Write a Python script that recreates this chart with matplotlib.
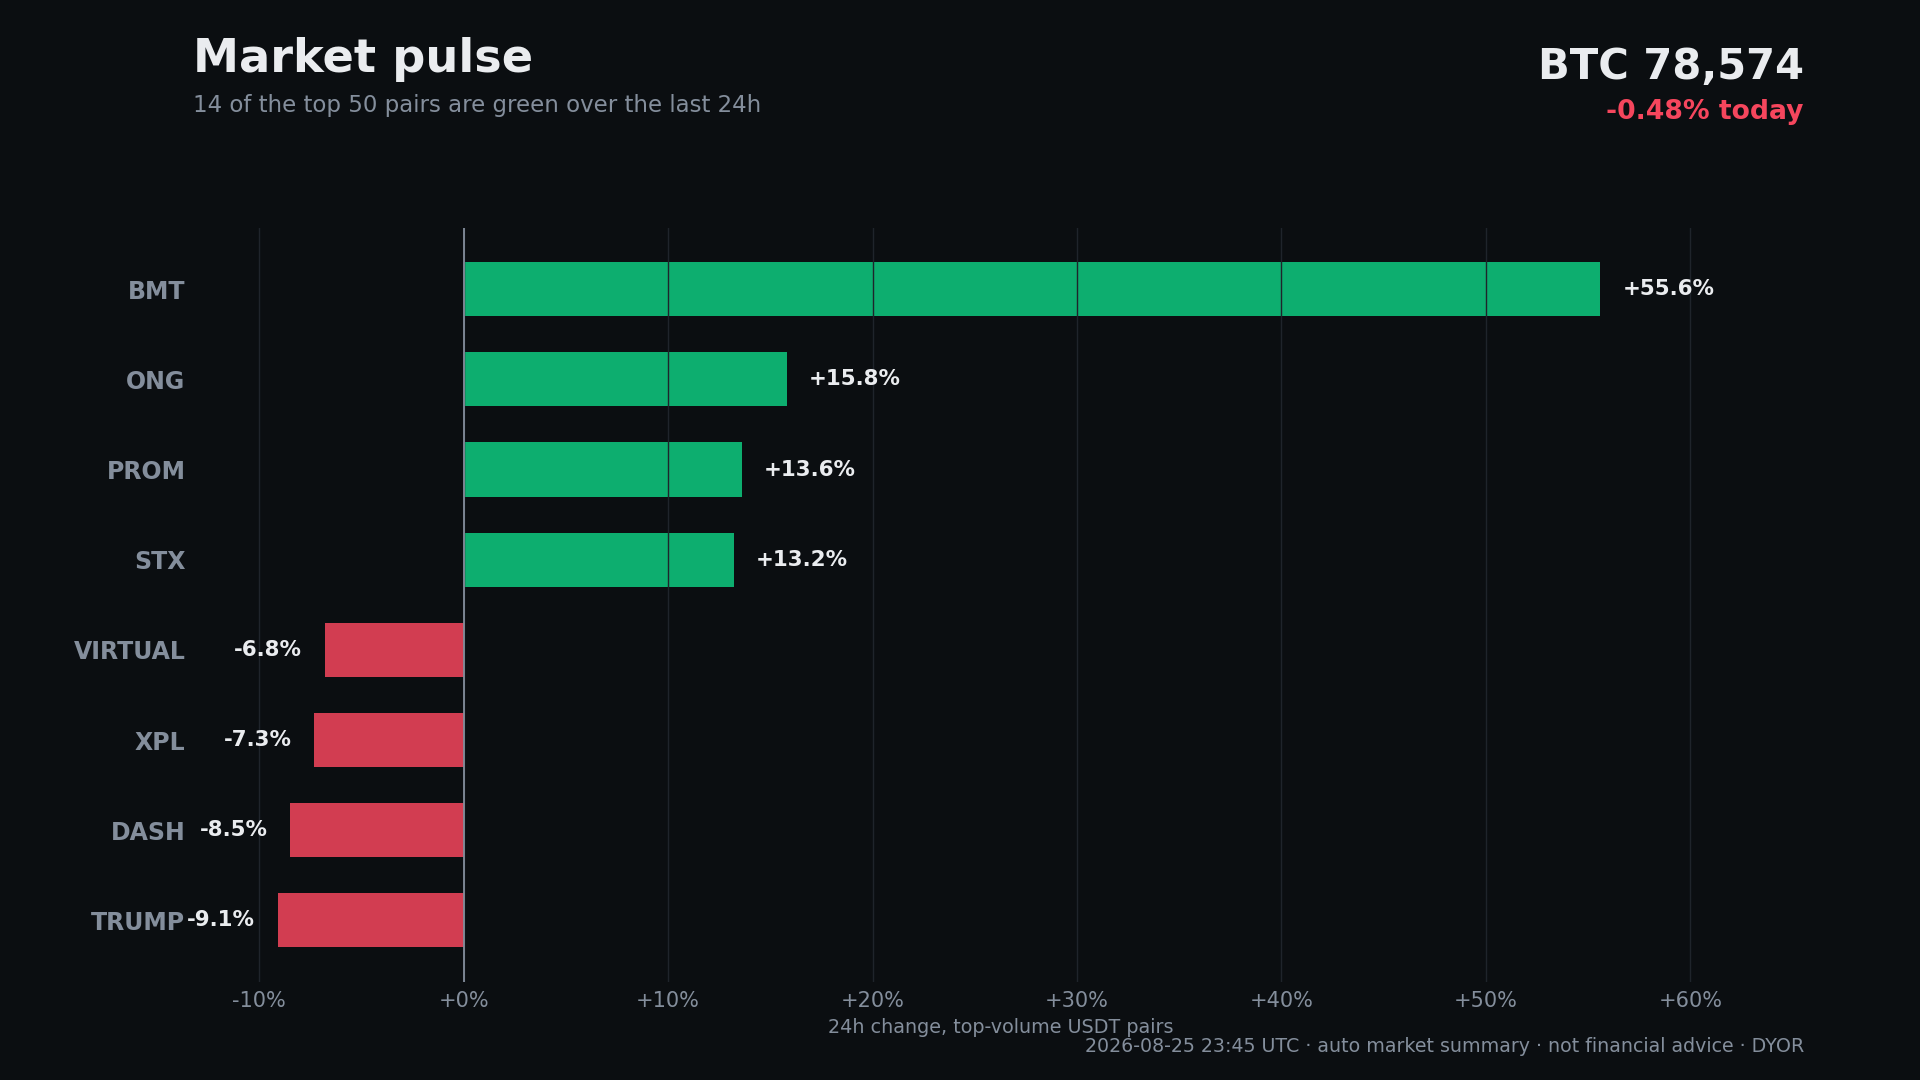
import numpy as np
import matplotlib.pyplot as plt

# 24h change of top-volume USDT pairs
symbols = ['BMT', 'ONG', 'PROM', 'STX', 'VIRTUAL', 'XPL', 'DASH', 'TRUMP']
changes = [55.6, 15.8, 13.6, 13.2, -6.8, -7.3, -8.5, -9.1]
xticks = [-10, 0, 10, 20, 30, 40, 50, 60]

title = 'Market pulse'
subtitle = '14 of the top 50 pairs are green over the last 24h'
btc_price = '78,574'
btc_change = -0.48
footer = '2026-08-25 23:45 UTC · auto market summary · not financial advice · DYOR'

BG = '#0b0e11'
GREEN = '#0ecb81'
RED = '#f6465d'
GREY = '#848e9c'
WHITE = '#eaecef'
GRID = '#1f242b'

plt.rcParams['font.family'] = ['DejaVu Sans']

fig = plt.figure(figsize=(19.2, 10.8), dpi=100, facecolor=BG)
ax = fig.add_axes([0.102, 0.091, 0.838, 0.698])
ax.set_facecolor(BG)

y = np.arange(len(symbols))
colors = [GREEN if c >= 0 else RED for c in changes]
ax.barh(y, changes, height=0.6, color=colors, alpha=0.85, zorder=1)

ax.set_xlim(-13.1, 65.6)
ax.set_ylim(len(symbols) - 0.32, -0.68)

ax.set_xticks(xticks)
ax.set_xticklabels([f'{t:+d}%' if t != 0 else '+0%' for t in xticks],
                   color=GREY, fontsize=15)
ax.set_yticks(y)
ax.set_yticklabels(symbols, color=GREY, fontsize=17, fontweight='bold')
ax.tick_params(axis='both', length=0)
ax.tick_params(axis='x', pad=7)
ax.tick_params(axis='y', pad=7.5)

ax.grid(axis='x', color=GRID, linewidth=1.0, zorder=2)
ax.set_axisbelow(False)
ax.axvline(0, color=GREY, linewidth=1.3, zorder=3)
for s in ax.spines.values():
    s.set_visible(False)

for yi, c in zip(y, changes):
    if c >= 0:
        ax.text(c + 1.1, yi, f'+{c:.1f}%', ha='left', va='center',
                color=WHITE, fontsize=15.4, fontweight='bold', zorder=4)
    else:
        ax.text(c - 1.1, yi, f'{c:.1f}%', ha='right', va='center',
                color=WHITE, fontsize=15.4, fontweight='bold', zorder=4)

ax.set_xlabel('24h change, top-volume USDT pairs', color=GREY,
              fontsize=13.8, labelpad=5)

fig.text(0.1005, 0.966, title, ha='left', va='top', color=WHITE,
         fontsize=33.3, fontweight='bold')
fig.text(0.1005, 0.902, subtitle, ha='left', va='center', color=GREY,
         fontsize=16.5)
fig.text(0.9395, 0.938, f'BTC {btc_price}', ha='right', va='center',
         color=WHITE, fontsize=30, fontweight='bold')
fig.text(0.9395, 0.896, f'{btc_change:+.2f}% today', ha='right', va='center',
         color=RED if btc_change < 0 else GREEN, fontsize=19.2,
         fontweight='bold')
fig.text(0.9395, 0.031, footer, ha='right', va='center', color=GREY,
         fontsize=13.7)

fig.savefig('out.png', dpi=100, facecolor=BG)
